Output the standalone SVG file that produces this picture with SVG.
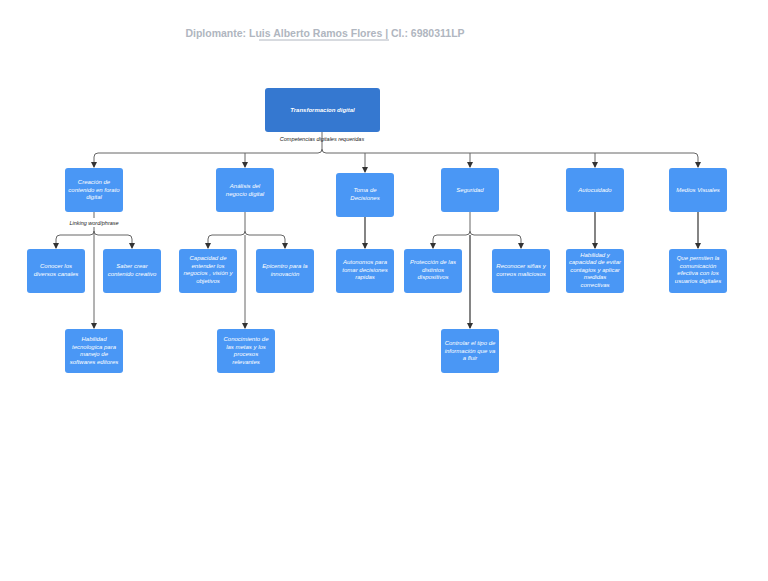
<svg xmlns="http://www.w3.org/2000/svg" width="768" height="581" viewBox="0 0 768 581">
<defs>
<marker id="ar" markerWidth="6" markerHeight="6" refX="5" refY="3" orient="auto" markerUnits="userSpaceOnUse"><path d="M0,0 L6,3 L0,6 z" fill="#333"/></marker>
<style>
.n{fill:#4a97f5;}
.m{fill:#3578d0;}
.t{font-family:"Liberation Sans",Arial,sans-serif;font-size:6px;font-style:italic;fill:#fff;text-anchor:middle;}
.c{fill:none;stroke:#666;stroke-width:1;}
.d{fill:none;stroke:#333;stroke-width:1.2;}
.l{font-family:"Liberation Sans",Arial,sans-serif;font-size:5.5px;font-style:italic;fill:#222;text-anchor:middle;}
</style>
</defs>
<rect width="768" height="581" fill="#fff"/>
<text x="325" y="37" font-family="'Liberation Sans',Arial,sans-serif" font-size="10.5" font-weight="bold" fill="#b0b6c0" text-anchor="middle">Diplomante: Luis Alberto Ramos Flores | CI.: 6980311LP</text>
<line x1="259" y1="40" x2="389" y2="40" stroke="#b0b6c0" stroke-width="1"/>
<g id="connectors">
<path class="c" d="M322,132 V149 Q322,153 318,153 H98 Q94,153 94,157 V167" marker-end="url(#ar)"/>
<path class="c" d="M322,149 Q322,153 326,153 H694 Q698,153 698,157 V167" marker-end="url(#ar)"/>
<path class="c" d="M245,153 V167" marker-end="url(#ar)"/>
<path class="c" d="M365,153 V172" marker-end="url(#ar)"/>
<path class="c" d="M470,153 V167" marker-end="url(#ar)"/>
<path class="c" d="M595,153 V167" marker-end="url(#ar)"/>
<text class="l" x="322" y="141">Competencias digitales requeridas</text>
<path class="c" d="M94,212 V218 M94,227 V235"/>
<text class="l" x="94" y="225">Linking word/phrase</text>
<path class="c" d="M94,231 Q94,235 90,235 H60 Q56,235 56,239 V248" marker-end="url(#ar)"/>
<path class="c" d="M94,231 Q94,235 98,235 H128 Q132,235 132,239 V248" marker-end="url(#ar)"/>
<path class="c" d="M94,235 V328" marker-end="url(#ar)"/>
<path class="c" d="M245,212 V231 Q245,235 241,235 H212 Q208,235 208,239 V248" marker-end="url(#ar)"/>
<path class="c" d="M245,231 Q245,235 249,235 H281 Q285,235 285,239 V248" marker-end="url(#ar)"/>
<path class="c" d="M245,235 V328" marker-end="url(#ar)"/>
<path class="d" d="M365,217 V248" marker-end="url(#ar)"/>
<path class="c" d="M470,212 V231 Q470,235 466,235 H437 Q433,235 433,239 V248" marker-end="url(#ar)"/>
<path class="c" d="M470,231 Q470,235 474,235 H517 Q521,235 521,239 V248" marker-end="url(#ar)"/>
<path class="d" d="M470,235 V328" marker-end="url(#ar)"/>
<path class="d" d="M595,212 V248" marker-end="url(#ar)"/>
<path class="d" d="M698,212 V248" marker-end="url(#ar)"/>
</g>
<g id="main"><rect class="m" x="265" y="88" width="115" height="44" rx="3"/><text class="t" x="322.5" y="112" font-size="7.5" font-weight="bold">Transformacion digital</text></g>
<g id="creacion"><rect class="n" x="65" y="168" width="58" height="44" rx="3"/><text class="t" x="94" y="184">Creación de</text><text class="t" x="94" y="191.5">contenido en forato</text><text class="t" x="94" y="199">digital</text></g>
<g id="analisis"><rect class="n" x="216" y="168" width="58" height="44" rx="3"/><text class="t" x="245" y="188">Análisis del</text><text class="t" x="245" y="195.5">negocio digital</text></g>
<g id="toma"><rect class="n" x="336" y="173" width="58" height="44" rx="3"/><text class="t" x="365" y="192">Toma de</text><text class="t" x="365" y="199.5">Decisiones</text></g>
<g id="seguridad"><rect class="n" x="441" y="168" width="58" height="44" rx="3"/><text class="t" x="470" y="192">Seguridad</text></g>
<g id="autocuidado"><rect class="n" x="566" y="168" width="58" height="44" rx="3"/><text class="t" x="595" y="192">Autocuidado</text></g>
<g id="medios"><rect class="n" x="669" y="168" width="58" height="44" rx="3"/><text class="t" x="698" y="192">Medios Visuales</text></g>
<g id="conocer"><rect class="n" x="27" y="249" width="58" height="44" rx="3"/><text class="t" x="56" y="268">Conocer los</text><text class="t" x="56" y="275.5">diversos canales</text></g>
<g id="saber"><rect class="n" x="103" y="249" width="58" height="44" rx="3"/><text class="t" x="132" y="268">Saber crear</text><text class="t" x="132" y="275.5">contenido creativo</text></g>
<g id="habtec"><rect class="n" x="65" y="329" width="58" height="44" rx="3"/><text class="t" x="94" y="341">Habilidad</text><text class="t" x="94" y="348.5">tecnologica para</text><text class="t" x="94" y="356">manejo de</text><text class="t" x="94" y="363.5">softwares editores</text></g>
<g id="capacidad"><rect class="n" x="179" y="249" width="58" height="44" rx="3"/><text class="t" x="208" y="260">Capacidad de</text><text class="t" x="208" y="267.5">entender los</text><text class="t" x="208" y="275">negocios , visión y</text><text class="t" x="208" y="282.5">objetivos</text></g>
<g id="epicentro"><rect class="n" x="256" y="249" width="58" height="44" rx="3"/><text class="t" x="285" y="268">Epicentro para la</text><text class="t" x="285" y="275.5">innovación</text></g>
<g id="conocimiento"><rect class="n" x="217" y="329" width="58" height="44" rx="3"/><text class="t" x="246" y="341">Conocimiento de</text><text class="t" x="246" y="348.5">las metas y los</text><text class="t" x="246" y="356">procesos</text><text class="t" x="246" y="363.5">relevantes</text></g>
<g id="autonomos"><rect class="n" x="336" y="249" width="58" height="44" rx="3"/><text class="t" x="365" y="264">Autonomos para</text><text class="t" x="365" y="271.5">tomar decisiones</text><text class="t" x="365" y="279">rapidas</text></g>
<g id="proteccion"><rect class="n" x="404" y="249" width="58" height="44" rx="3"/><text class="t" x="433" y="264">Protección de las</text><text class="t" x="433" y="271.5">distintos</text><text class="t" x="433" y="279">dispositivos</text></g>
<g id="reconocer"><rect class="n" x="492" y="249" width="58" height="44" rx="3"/><text class="t" x="521" y="268">Reconocer siñas y</text><text class="t" x="521" y="275.5">correos maliciosos</text></g>
<g id="controlar"><rect class="n" x="441" y="329" width="58" height="44" rx="3"/><text class="t" x="470" y="345">Controlar el tipo de</text><text class="t" x="470" y="352.5">información que va</text><text class="t" x="470" y="360">a fluir</text></g>
<g id="habcap"><rect class="n" x="566" y="249" width="58" height="44" rx="3"/><text class="t" x="595" y="256.5">Habilidad y</text><text class="t" x="595" y="264">capacidad de evitar</text><text class="t" x="595" y="271.5">contagios y aplicar</text><text class="t" x="595" y="279">medidas</text><text class="t" x="595" y="286.5">correctivas</text></g>
<g id="que"><rect class="n" x="669" y="249" width="58" height="44" rx="3"/><text class="t" x="698" y="260">Que permiten la</text><text class="t" x="698" y="267.5">comunicación</text><text class="t" x="698" y="275">efectiva con los</text><text class="t" x="698" y="282.5">usuarios digitales</text></g>
</svg>
